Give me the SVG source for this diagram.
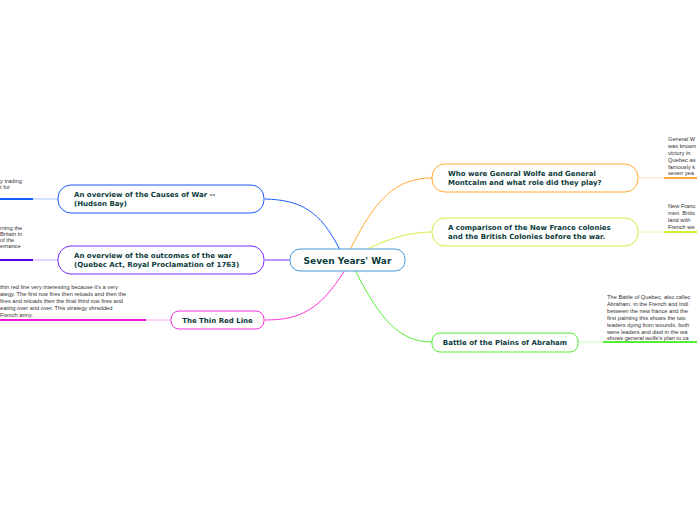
<svg xmlns="http://www.w3.org/2000/svg" width="697" height="520" viewBox="0 0 697 520">
<style>
.t{font-family:"DejaVu Sans",sans-serif;font-size:7px;font-weight:bold;fill:#0d3b3b}
.s{font-family:"Liberation Sans",sans-serif;font-size:5.7px;fill:#333}
.n{fill:#fff;stroke-width:1}
.c{fill:none;stroke-width:1}
</style>
<rect width="697" height="520" fill="#fff"/>
<g id="connectors">
<path class="c" stroke="#1a5cff" d="M340,250 C320,210 300,200 265,199"/>
<path class="c" stroke="#7a2cff" d="M290,260 L265,260"/>
<path class="c" stroke="#ff33dd" d="M345,270 C320,310 300,320 265,320"/>
<path class="c" stroke="#ffaa33" d="M350,250 C375,200 395,178 432,178"/>
<path class="c" stroke="#dde840" d="M365,250 C390,238 410,232 432,232"/>
<path class="c" stroke="#55ee33" d="M355,270 C380,320 400,342 432,342"/>
<path stroke="#1a5cff" stroke-width="2" d="M0,199 L33,199"/><path stroke="#aac4ff" d="M33,199 L58,199"/>
<path stroke="#5500dd" stroke-width="2" d="M0,260 L33,260"/><path stroke="#c8aaff" d="M33,260 L58,260"/>
<path stroke="#ee11dd" stroke-width="2" d="M0,320 L146,320"/><path stroke="#ffaaf0" d="M146,320 L171,320"/>
<path stroke="#ffe0bb" d="M638,178 L664,178"/><path stroke="#ffaa33" stroke-width="2" d="M664,178 L697,178"/>
<path stroke="#eef5aa" d="M638,232 L664,232"/><path stroke="#d4ee33" stroke-width="2" d="M664,232 L697,232"/>
<path stroke="#ccffbb" d="M578,342 L603,342"/><path stroke="#55ee33" stroke-width="2" d="M603,342 L697,342"/>
</g>
<g id="center"><rect class="n" x="290" y="249" width="115" height="22" rx="10" stroke="#4499dd"/><text x="347.5" y="264" text-anchor="middle" class="t" style="font-size:9px">Seven Years' War</text></g>
<g id="causes"><rect class="n" x="58" y="185" width="206" height="28" rx="13" stroke="#1a5cff"/><text class="t" x="74" y="197">An overview of the Causes of War --</text><text class="t" x="74" y="206">(Hudson Bay)</text></g>
<g id="outcomes"><rect class="n" x="58" y="246" width="206" height="28" rx="13" stroke="#7a2cff"/><text class="t" x="74" y="258">An overview of the outcomes of the war</text><text class="t" x="74" y="267">(Quebec Act, Royal Proclamation of 1763)</text></g>
<g id="thinred"><rect class="n" x="171" y="311" width="93" height="18" rx="8" stroke="#ee33dd"/><text class="t" x="217.5" y="323" text-anchor="middle">The Thin Red Line</text></g>
<g id="wolfe"><rect class="n" x="432" y="164" width="206" height="28" rx="13" stroke="#ffaa33"/><text class="t" x="448" y="176">Who were General Wolfe and General</text><text class="t" x="448" y="185">Montcalm and what role did they play?</text></g>
<g id="compare"><rect class="n" x="432" y="218" width="206" height="28" rx="13" stroke="#dde840"/><text class="t" x="448" y="230">A comparison of the New France colonies</text><text class="t" x="448" y="239">and the British Colonies before the war.</text></g>
<g id="battle"><rect class="n" x="432" y="333" width="146" height="19" rx="8" stroke="#55ee33"/><text class="t" x="505" y="345" text-anchor="middle">Battle of the Plains of Abraham</text></g>
<g id="notes">
<text class="s" x="0" y="183">y trading</text><text class="s" x="0" y="189">t fur</text>
<text class="s" x="0" y="230">rning the</text><text class="s" x="0" y="236">Britain in</text><text class="s" x="0" y="242">of the</text><text class="s" x="0" y="248">ernance</text>
<text class="s" x="0" y="289">thin red line very interesting because it's a very</text><text class="s" x="0" y="296">ategy. The first row fires then reloads and then the</text><text class="s" x="0" y="303">fires and reloads then the final third row fires and</text><text class="s" x="0" y="310">eating over and over. This strategy shredded</text><text class="s" x="0" y="317">French army.</text>
<text class="s" x="668" y="141">General W</text><text class="s" x="668" y="148">was known</text><text class="s" x="668" y="155">victory in</text><text class="s" x="668" y="162">Quebec as</text><text class="s" x="668" y="169">famously k</text><text class="s" x="668" y="175">seven yea</text>
<text class="s" x="668" y="208">New Franc</text><text class="s" x="668" y="215">men. Britis</text><text class="s" x="668" y="222">land with</text><text class="s" x="668" y="229">French we</text>
<text class="s" x="607" y="299">The Battle of Quebec, also callec</text><text class="s" x="607" y="306">Abraham, in the French and Indi</text><text class="s" x="607" y="313">between the new france and the</text><text class="s" x="607" y="320">first painting this shows the two</text><text class="s" x="607" y="327">leaders dying from wounds, both</text><text class="s" x="607" y="334">were leaders and died in the wa</text><text class="s" x="607" y="340">shows general wolfe's plan to ca</text>
</g>
</svg>
